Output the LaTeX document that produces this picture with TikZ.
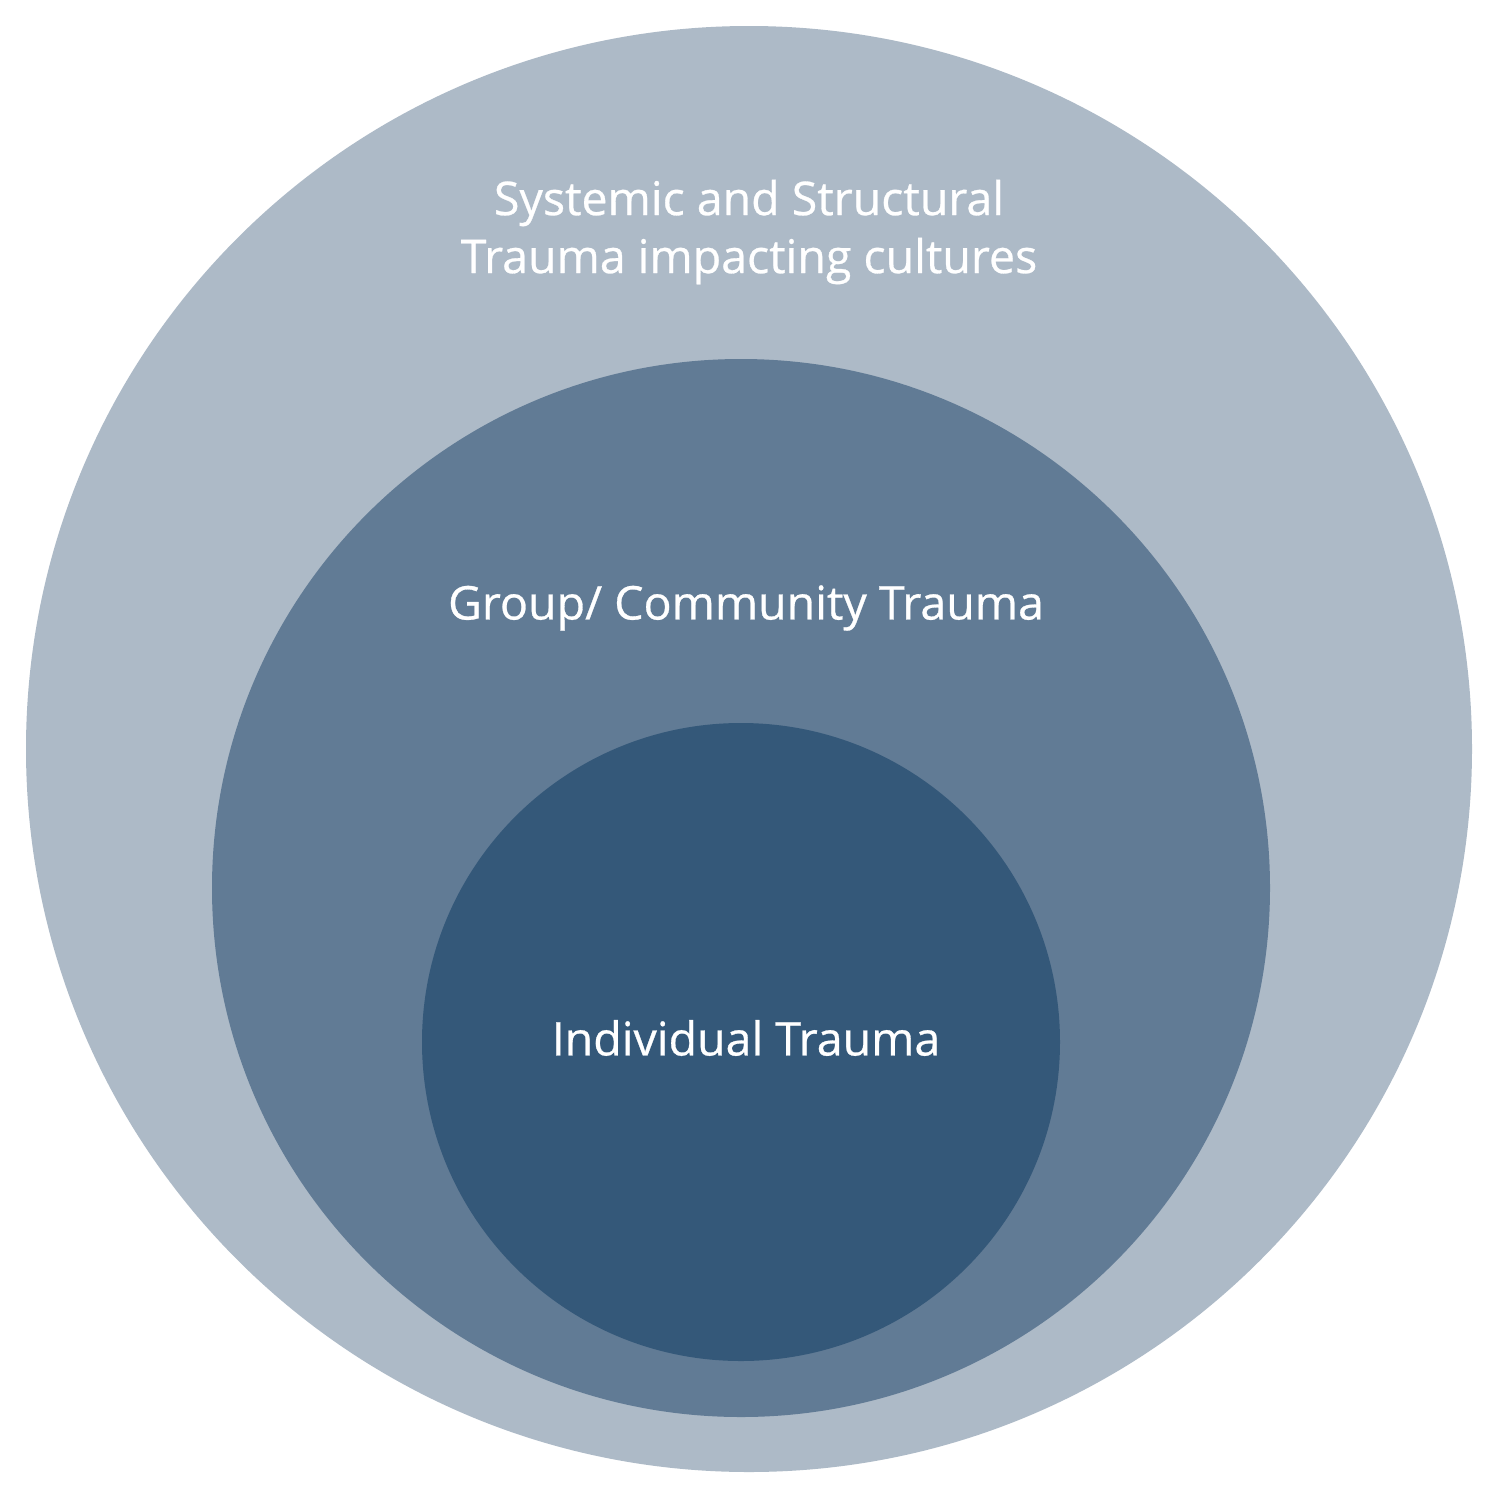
\documentclass[tikz,border=0pt]{standalone}
\usepackage{fontspec}
\setmainfont{Open Sans}[FakeBold=0.6]
\definecolor{outerc}{HTML}{ADBAC7}
\definecolor{midc}{HTML}{617B95}
\definecolor{innerc}{HTML}{345879}
\begin{document}
\begin{tikzpicture}[x=1pt,y=-1pt,
  ring/.style={circle,inner sep=0pt,draw=none},
  lbl/.style={text=white,align=center,font=\fontsize{46.5}{58}\selectfont}]
\useasboundingbox (0,0) rectangle (1500,1505);
\fill[white] (0,0) rectangle (1500,1505);
\node[ring,fill=outerc,minimum size=1446pt] (outer) at (749,749) {};
\node[ring,fill=midc,minimum size=1058pt] (mid) at (741,888) {};
\node[ring,fill=innerc,minimum size=638pt] (inner) at (741,1042) {};
\node[lbl] (t1) at (749,232) {Systemic and Structural\\Trauma impacting cultures};
\node[lbl] (t2) at (746,608) {Group/ Community Trauma};
\node[lbl] (t3) at (746,1038) {Individual Trauma};
\end{tikzpicture}
\end{document}
